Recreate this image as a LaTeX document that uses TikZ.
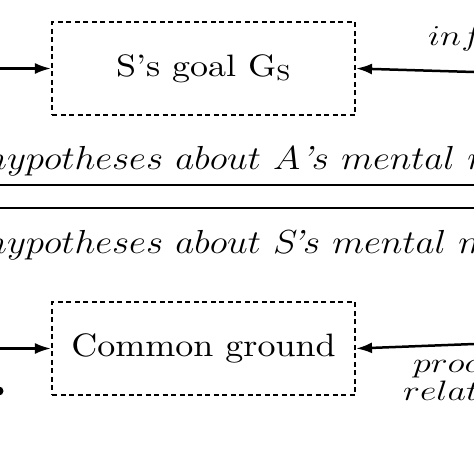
\RequirePackage{fix-cm}
\documentclass[tikz,border=0pt]{standalone}
\usepackage{fontspec}
\setmainfont{lmroman10-regular.otf}[ItalicFont=lmroman10-italic.otf]
\usetikzlibrary{arrows.meta}
\newcommand\vsq[2]{\scalebox{1}[#1]{#2}}
\begin{document}
\begin{tikzpicture}[x=1pt,y=-1pt,
  every node/.style={font=\fontsize{36}{30}\selectfont, inner sep=0pt},
  box/.style={draw, line width=2.1pt, dash pattern=on 5pt off 3.5pt,
              minimum width=303pt, minimum height=93pt},
  arr/.style={line width=2.5pt, -{Latex[length=16pt,width=11pt]}},
  sepline/.style={line width=2.5pt},
  lbl/.style={anchor=base west, font=\fontsize{36}{30}\selectfont},
  hyp/.style={anchor=base west, font=\fontsize{37}{30}\selectfont},
  bullet/.style={circle, fill, minimum size=9pt}]
\useasboundingbox (0,0) rectangle (474,474);
\clip (0,0) rectangle (474,474);
\fill[white] (0,0) rectangle (474,474);
% boxes
\node[box] (goal) at (203.5,68.5) {\vsq{0.86}{S’s goal G$_{\mathrm{S}}$}};
\node[box] (cg) at (203.5,348.5) {\vsq{0.9}{Common ground}};
% free ends
\coordinate (gl) at (0,68.5);
\coordinate (gr) at (474,72);
\coordinate (cl) at (0,348.5);
\coordinate (cr) at (474,344);
\draw[arr] (gl) -- (goal.west);
\draw[arr] (gr) -- (goal.east);
\draw[arr] (cl) -- (cg.west);
\draw[arr] (cr) -- (cg.east);
% separators
\coordinate (s1l) at (0,185);
\coordinate (s1r) at (474,185);
\coordinate (s2l) at (0,208);
\coordinate (s2r) at (474,208);
\draw[sepline] (s1l) -- (s1r);
\draw[sepline] (s2l) -- (s2r);
% texts
\node[hyp] (hypA) at (-14,169) {\vsq{0.9}{$hypotheses\ about\ A\mbox{\itshape ’}s\ mental\ model$}};
\node[hyp] (hypS) at (-14,253) {\vsq{0.9}{$hypotheses\ about\ S\mkern-3mu\mbox{\itshape ’}s\ mental\ model$}};
\node[lbl] (inf) at (428,45) {\vsq{0.8}{$inference$}};
\node[lbl] (proc) at (413,372) {\vsq{0.78}{$process$}};
\node[lbl] (relat) at (403,400) {\vsq{0.78}{$relation$}};
\node[bullet] (dot) at (-1,391) {};
\end{tikzpicture}
\end{document}
